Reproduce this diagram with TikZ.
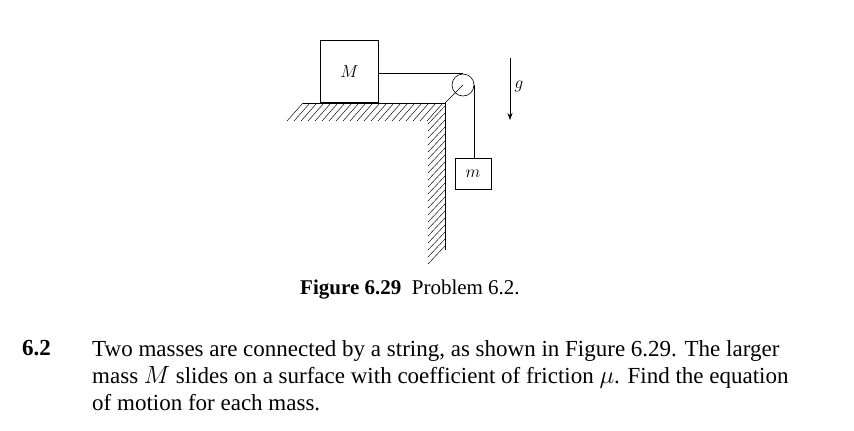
\documentclass[tikz,border=0pt]{standalone}
\usepackage{fontspec}
\setmainfont{Liberation Serif}
\usetikzlibrary{patterns,arrows.meta}
\begin{document}
\begin{tikzpicture}[x=1pt,y=-1pt,
  box/.style={draw,line width=0.7pt,font=\fontsize{16}{18}\selectfont},
  wire/.style={line width=0.6pt},
  hatch/.style={line width=0.45pt},
  txt/.style={inner sep=0pt}]
\useasboundingbox (0,0) rectangle (854,431);
% hatching
\foreach \i in {0,...,20} {\draw[hatch] ({303+7*\i},103) -- ({303+7*\i-16},121);}
\foreach \j in {0,...,20} {\draw[hatch] (445,{106+7*\j}) -- (428,{124+7*\j});}
\draw[line width=0.7pt] (303,103) -- (445,103) -- (445,250);
\node[box,minimum width=58pt,minimum height=62pt,anchor=south west] (M) at (320,103) {$M$};
\node[draw,circle,minimum size=22pt,inner sep=0pt,line width=0.6pt] (p) at (463,85) {};
\coordinate (corner) at (445,103);
\draw[wire] (corner) -- (p.center);
\draw[wire] (M.east |- p.north) -- (p.north);
\node[box,minimum width=36pt,minimum height=31pt,anchor=north] (m) at (473,158) {$m$};
\draw[wire] (p.east) -- (m.north -| p.east);
\coordinate (g1) at (510,58); \coordinate (g2) at (510,120);
\draw[wire,-{Stealth[length=7pt,width=5pt]}] (g1) -- (g2);
\node[font=\fontsize{16}{18}\selectfont] (g) at (519,86) {$g$};
\node[font=\fontsize{21}{24}\selectfont] (cap) at (410,290) {\textbf{Figure 6.29}\ \ Problem 6.2.};
\node[txt,anchor=north west,font=\fontsize{23}{27}\selectfont\bfseries] (num) at (22,340) {6.2};
\node[txt,anchor=north west,align=left,font=\fontsize{23}{27}\selectfont] (body) at (92,340) {Two masses are connected by a string, as shown in Figure 6.29. The larger\\mass $M$ slides on a surface with coefficient of friction $\mu$. Find the equation\\of motion for each mass.};
\end{tikzpicture}
\end{document}
